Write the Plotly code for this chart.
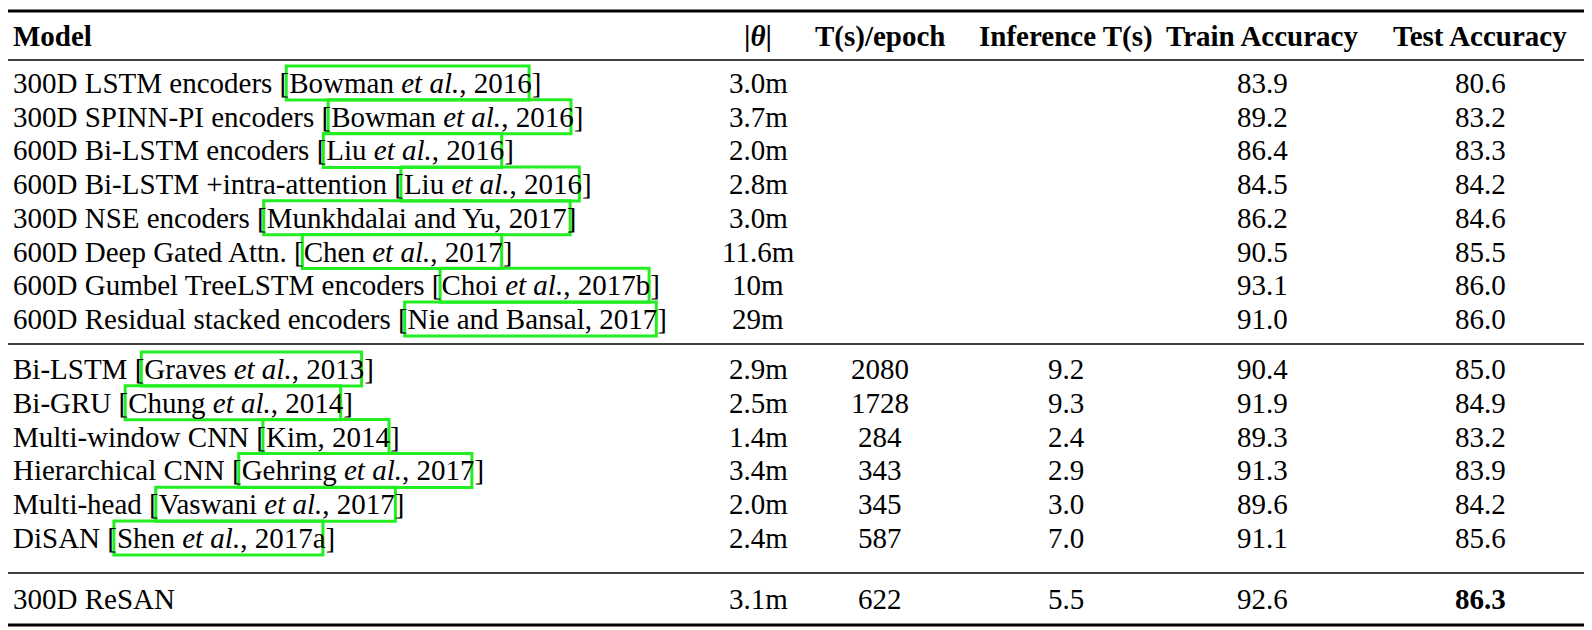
import plotly.graph_objects as go

headers = ["Model", "|<i>θ</i>|", "T(s)/epoch", "Inference T(s)", "Train Accuracy", "Test Accuracy"]
prefixes = ["300D LSTM encoders [", "300D SPINN-PI encoders [", "600D Bi-LSTM encoders [",
            "600D Bi-LSTM +intra-attention [", "300D NSE encoders [", "600D Deep Gated Attn. [",
            "600D Gumbel TreeLSTM encoders [", "600D Residual stacked encoders [",
            "Bi-LSTM [", "Bi-GRU [", "Multi-window CNN [", "Hierarchical CNN [", "Multi-head [",
            "DiSAN [", "300D ReSAN"]
cites = [("Bowman ", "et al.", ", 2016"), ("Bowman ", "et al.", ", 2016"), ("Liu ", "et al.", ", 2016"),
         ("Liu ", "et al.", ", 2016"), ("Munkhdalai and Yu, 2017", "", ""), ("Chen ", "et al.", ", 2017"),
         ("Choi ", "et al.", ", 2017b"), ("Nie and Bansal, 2017", "", ""),
         ("Graves ", "et al.", ", 2013"), ("Chung ", "et al.", ", 2014"), ("Kim, 2014", "", ""),
         ("Gehring ", "et al.", ", 2017"), ("Vaswani ", "et al.", ", 2017"), ("Shen ", "et al.", ", 2017a"),
         None]
params = ["3.0m", "3.7m", "2.0m", "2.8m", "3.0m", "11.6m", "10m", "29m",
          "2.9m", "2.5m", "1.4m", "3.4m", "2.0m", "2.4m", "3.1m"]
epoch_t = ["", "", "", "", "", "", "", "", "2080", "1728", "284", "343", "345", "587", "622"]
infer_t = ["", "", "", "", "", "", "", "", "9.2", "9.3", "2.4", "2.9", "3.0", "7.0", "5.5"]
train_acc = ["83.9", "89.2", "86.4", "84.5", "86.2", "90.5", "93.1", "91.0",
             "90.4", "91.9", "89.3", "91.3", "89.6", "91.1", "92.6"]
test_acc = ["80.6", "83.2", "83.3", "84.2", "84.6", "85.5", "86.0", "86.0",
            "85.0", "84.9", "83.2", "83.9", "84.2", "85.6", "<b>86.3</b>"]

W, H = 1592, 630
FS = 29
FONT = "Liberation Serif"
row_y = [75 + 33.7 * i for i in range(8)] + [361 + 33.8 * i for i in range(6)] + [591]
col_x = [3, 750, 872, 1058, 1254, 1472]
header_y = 28

TW = {' ': 250, '[': 333, ']': 333, '.': 250, ',': 250, '+': 564, '-': 333, '(': 333, ')': 333}
for c in "0123456789": TW[c] = 500
TW.update(dict(zip("ABCDEFGHIJKLMNOPQRSTUVWXYZ",
    [722, 667, 667, 722, 611, 556, 722, 722, 333, 389, 722, 611, 889, 722, 722, 556, 722, 667, 556, 611, 722, 722, 944, 722, 722, 611])))
TW.update(dict(zip("abcdefghijklmnopqrstuvwxyz",
    [444, 500, 444, 500, 444, 333, 500, 500, 278, 278, 500, 278, 778, 500, 500, 500, 500, 333, 389, 278, 500, 500, 722, 500, 500, 444])))

def width(s):
    return sum(TW.get(c, 500) for c in s) * FS / 1000.0

anns, shapes = [], []

for j, h in enumerate(headers):
    anns.append(dict(x=col_x[j], y=header_y, text="<b>" + h + "</b>", xanchor="left" if j == 0 else "center"))

for i in range(len(prefixes)):
    y = row_y[i]
    if cites[i]:
        a, b, c = cites[i]
        txt = prefixes[i] + a + ("<i>" + b + "</i>" if b else "") + c + "]"
        x0 = col_x[0] + width(prefixes[i]) - 1
        x1 = x0 + width(a + b + c) + 2
        shapes.append(dict(type="rect", x0=x0, x1=x1, y0=y - 17, y1=y + 17,
                           line=dict(color="#22ee22", width=3)))
    else:
        txt = prefixes[i]
    anns.append(dict(x=col_x[0], y=y, text=txt, xanchor="left"))
    for j, v in enumerate([params[i], epoch_t[i], infer_t[i], train_acc[i], test_acc[i]], start=1):
        if v:
            anns.append(dict(x=col_x[j], y=y, text=v, xanchor="center"))

for a in anns:
    a.update(xref="x", yref="y", showarrow=False, yanchor="middle", font=dict(family=FONT, size=FS, color="black"))

for y, w in [(3, 3), (52, 1.5), (336, 1.5), (565, 1.5), (617, 3)]:
    shapes.append(dict(type="line", x0=0, x1=W, y0=y, y1=y, line=dict(color="black", width=w)))

fig = go.Figure()
fig.update_layout(width=W, height=H, margin=dict(l=0, r=0, t=0, b=0),
                  plot_bgcolor="white", paper_bgcolor="white",
                  xaxis=dict(range=[0, W], visible=False, fixedrange=True),
                  yaxis=dict(range=[H, 0], visible=False, fixedrange=True),
                  annotations=anns, shapes=shapes, showlegend=False)
fig.write_html("out.html", config={"displayModeBar": False})
